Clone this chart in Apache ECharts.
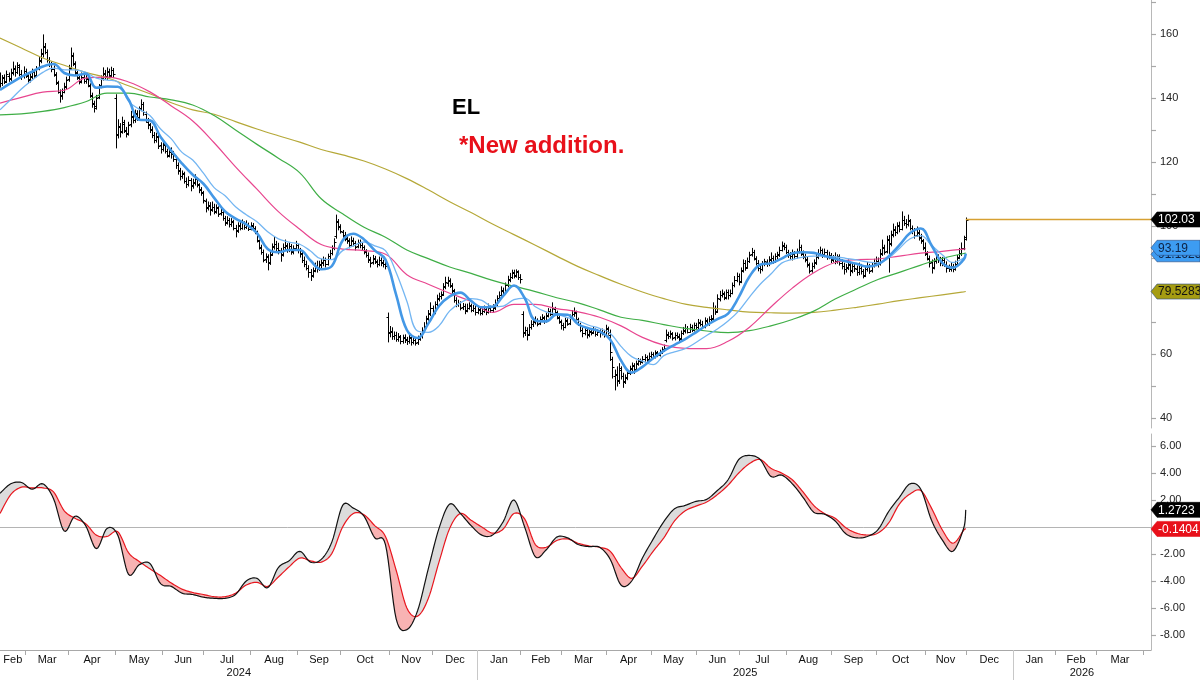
<!DOCTYPE html>
<html><head><meta charset="utf-8">
<script src="https://cdn.jsdelivr.net/npm/echarts@6/dist/echarts.min.js"></script>
<style>html,body{margin:0;padding:0;background:#fff}#c{width:1200px;height:696px}</style>
</head><body><div id="c"></div><script>
// ---- axis categories / tick labels ----
const monthLabels = ['Feb','Mar','Apr','May','Jun','Jul','Aug','Sep','Oct','Nov','Dec','Jan','Feb','Mar','Apr','May','Jun','Jul','Aug','Sep','Oct','Nov','Dec','Jan','Feb','Mar'];
const monthTradingDays = [12,20,22,22,19,22,22,20,23,20,21,20,19,21,21,21,20,22,21,21,23,19,22,20,19,22];
const yearLabels = ['2024','2025','2026'];
const priceTicks = [40,60,80,100,120,140,160];
const priceMinorTicks = [50,70,90,110,130,150,170];
const oscTicks = [-8,-6,-4,-2,0,2,4,6];
const priceTagLabels = ['91.1625','93.19','79.5283','102.03'];
const oscTagLabels = ['-0.1404','1.2723'];
const titleText = 'EL';
const noteText = '*New addition.';

// ---- daily OHLC (trading days from 13 Feb 2024) ----
const opens = [
145.5,144.6,146.4,145.2,147.0,146.3,148.0,149.2,148.2,149.8, 147.4,146.9,148.3,147.0,145.8,146.7,148.0,147.2,149.3,151.8,
154.0,156.2,154.2,151.8,150.6,149.2,147.2,144.6,141.8,140.8, 142.0,143.8,145.8,149.5,153.2,150.6,147.8,146.2,145.2,146.4,
145.4,146.2,143.8,140.6,138.2,137.4,140.4,143.9,146.2,147.8, 146.6,148.4,147.2,148.6,140.0,128.8,131.2,129.6,132.0,129.8,
129.0,131.8,134.2,133.2,135.2,134.0,136.8,138.0,135.0,132.6, 131.5,130.2,128.3,127.0,127.8,125.2,124.1,125.2,123.3,122.3,
123.2,122.4,121.0,119.2,117.2,115.7,116.3,114.2,113.2,114.3, 112.7,113.6,114.6,112.8,111.3,110.2,107.8,105.8,106.4,105.2,
105.8,104.7,105.6,104.0,104.3,102.4,101.2,101.8,100.6,101.3, 99.3,98.7,100.2,99.4,100.8,99.8,100.4,99.2,100.1,99.3,
98.0,95.2,93.2,91.8,89.6,90.4,88.8,91.2,93.6,94.3, 93.2,92.3,91.2,93.3,93.8,92.6,93.6,92.2,93.2,94.0,
92.6,91.2,89.3,88.2,86.8,85.6,84.8,86.2,87.3,86.7, 87.8,88.6,89.4,88.2,90.6,91.7,93.2,96.8,101.2,99.6,
98.2,97.2,96.2,95.3,94.2,95.2,94.6,93.7,94.8,94.2, 93.3,92.2,90.9,89.6,88.7,89.8,88.8,88.2,89.3,88.6,
88.1,71.5,66.8,67.2,65.6,66.0,64.6,65.4,64.2,65.2, 64.6,64.1,65.0,63.9,64.4,63.7,64.9,65.6,67.6,68.7,
71.2,72.8,74.3,73.2,75.6,77.3,78.2,78.7,81.2,82.3, 82.8,81.4,79.6,76.8,75.6,75.8,74.6,75.0,73.7,74.4,
75.0,73.9,74.3,73.2,73.8,72.9,73.6,74.0,73.2,74.3, 73.9,74.6,75.7,77.4,78.6,79.8,79.2,81.6,83.2,84.2,
85.4,84.6,85.6,84.1,72.5,66.8,67.4,66.2,68.4,69.4, 70.2,70.4,69.7,70.6,71.4,70.4,72.2,73.3,72.6,74.2,
72.8,71.3,70.2,69.2,68.6,70.4,69.7,71.4,72.4,72.8, 70.8,69.2,67.6,66.7,67.4,66.2,67.1,66.7,67.4,66.4,
66.8,66.6,66.9,66.2,67.8,66.0,58.5,53.0,53.8,51.5, 55.0,53.2,51.2,52.8,54.2,55.4,56.3,55.2,57.1,57.8,
57.7,58.4,59.0,58.3,59.4,60.1,59.3,60.4,59.8,60.4, 61.6,64.5,66.2,65.6,66.4,65.2,66.0,65.4,64.9,66.6,
67.3,68.2,67.0,68.3,67.6,69.1,68.4,69.8,69.4,68.6, 70.3,69.6,70.8,71.2,74.3,73.4,77.2,78.6,78.8,77.8,
79.3,78.6,79.2,81.6,83.2,84.4,82.7,86.2,88.4,87.2, 89.2,91.2,91.8,89.8,88.4,86.9,86.7,88.1,88.8,88.2,
89.6,90.1,89.1,90.6,91.2,92.6,93.9,93.4,91.8,91.1, 90.6,91.4,90.6,92.2,93.4,91.4,90.4,89.6,87.8,86.2,
87.6,88.6,90.4,91.6,92.4,91.2,91.8,90.6,90.8,89.6, 90.1,89.2,90.4,88.4,87.6,86.7,87.2,87.8,86.2,87.4,
86.6,85.7,86.8,85.8,84.8,86.6,87.3,86.2,87.9,88.4, 89.1,88.2,91.4,93.2,92.2,95.5,94.8,97.3,98.8,98.2,
100.2,99.2,101.8,100.8,100.6,101.6,99.4,98.4,97.2,97.8, 96.4,95.2,93.2,91.3,89.8,88.6,87.2,89.2,90.3,89.4,
88.4,89.4,88.2,86.8,86.6,87.3,86.6,88.2,90.2,91.6, 93.2,96.5];
const highs = [
147.8,147.0,147.2,148.4,147.8,149.0,151.2,150.0,151.0,150.4, 148.6,149.7,149.0,147.6,147.8,149.0,148.9,149.8,152.6,155.2,
159.7,157.0,155.0,152.6,151.2,150.0,147.9,145.2,142.5,142.8, 144.6,146.5,150.2,155.6,154.0,151.3,148.4,147.0,147.8,147.2,
147.2,146.8,144.4,141.5,139.0,140.8,144.2,146.9,149.4,148.6, 149.4,149.0,149.6,149.2,141.0,133.2,132.0,134.0,133.0,130.8,
132.4,135.8,135.0,136.2,136.0,137.2,139.4,138.6,135.6,133.6, 132.0,131.0,129.2,129.0,128.4,126.0,126.4,126.0,124.0,124.4,
124.4,123.3,121.8,119.7,118.0,117.2,116.8,115.0,115.4,114.8, 114.6,116.0,115.0,113.2,112.0,110.8,108.4,107.5,107.3,107.5,
106.8,106.6,106.0,105.3,104.8,103.0,102.9,102.4,102.3,101.8, 100.2,101.0,101.2,101.9,101.3,101.6,100.9,101.0,100.8,99.8,
98.4,95.6,94.0,92.5,91.3,91.0,91.8,94.4,96.6,95.2, 94.6,93.0,94.4,95.6,94.5,94.7,94.2,93.8,95.2,94.3,
93.0,91.8,90.3,89.0,87.6,86.4,86.9,88.4,89.0,89.0, 89.6,90.3,90.0,91.2,92.4,93.8,96.0,103.4,102.0,100.4,
98.6,98.0,96.6,96.0,96.6,96.2,95.2,95.6,95.6,94.6, 93.8,92.6,91.6,90.2,90.8,90.5,89.4,90.3,90.0,89.3,
89.0,72.8,68.6,68.2,66.9,66.8,66.4,65.8,65.9,66.0, 65.2,66.0,65.6,65.3,65.0,65.6,66.4,68.2,69.8,71.8,
73.6,76.0,75.0,76.3,78.4,79.0,79.4,82.0,84.0,84.0, 83.5,82.0,80.2,77.6,76.8,76.3,75.8,75.6,75.6,76.0,
75.6,75.2,75.0,74.8,74.4,74.2,75.0,74.6,75.6,75.0, 75.4,76.9,78.2,79.4,81.0,80.6,82.2,84.3,85.2,86.2,
86.2,86.3,86.0,84.8,73.2,68.4,68.2,69.2,70.4,71.2, 71.6,71.0,71.6,72.3,71.8,72.8,74.2,74.0,76.0,74.6,
73.4,72.0,70.6,69.6,71.2,71.0,72.2,73.6,74.4,73.4, 71.2,69.6,68.2,68.0,68.2,67.6,67.8,68.3,67.8,67.6,
67.6,67.8,67.4,69.0,68.4,67.5,59.0,55.0,56.0,57.0, 56.0,54.0,53.5,55.0,56.2,57.2,57.0,57.8,58.6,58.4,
59.2,59.8,59.4,60.3,60.6,60.4,61.0,60.8,61.2,62.0, 62.8,67.5,66.8,67.2,66.7,66.6,66.6,66.2,67.2,68.3,
69.2,68.6,69.3,69.0,69.7,69.6,70.8,70.6,70.2,71.3, 71.0,71.6,72.0,76.0,75.0,78.5,79.6,80.0,79.4,80.0,
80.0,80.0,82.2,84.2,85.3,85.0,86.9,89.4,89.2,90.0, 91.8,93.0,92.4,90.4,89.2,87.8,88.9,89.6,89.4,90.4,
91.6,90.6,91.3,91.8,93.4,95.0,94.6,94.0,92.4,91.7, 92.5,92.0,92.8,95.6,94.0,92.2,91.2,90.2,88.4,88.4,
89.4,91.2,92.6,93.4,92.8,92.8,92.4,91.8,91.4,90.8, 91.6,91.0,91.0,89.4,88.4,88.0,89.4,88.4,88.6,88.0,
87.5,88.4,88.0,86.4,87.4,88.6,88.0,88.6,89.6,90.3, 90.0,92.6,95.6,94.0,96.8,97.0,98.4,100.6,99.8,101.0,
101.2,104.4,103.0,102.0,103.4,102.0,100.0,99.2,99.7,98.6, 97.4,95.8,94.7,92.0,90.6,89.4,89.8,91.6,91.0,90.2,
90.2,90.0,88.8,87.8,88.6,88.0,89.0,90.8,93.0,94.7, 96.8,102.5];
const lows = [
143.4,143.9,144.5,144.8,145.2,145.5,147.2,146.8,147.6,146.9, 145.8,146.2,146.4,144.7,145.0,146.1,146.3,146.6,148.8,151.0,
152.8,153.8,151.2,149.8,148.2,146.8,144.2,141.5,138.7,139.6, 141.6,142.9,145.2,149.0,150.1,147.2,145.8,144.4,144.7,144.6,
144.6,143.5,140.2,137.1,135.6,136.5,139.8,143.2,145.6,145.9, 145.8,146.2,146.6,146.4,124.4,127.5,127.8,129.0,129.2,127.8,
128.4,131.0,132.2,132.4,133.0,133.4,136.0,134.6,132.4,130.4, 129.2,127.6,126.0,126.2,124.2,122.8,123.4,122.8,121.5,121.6,
121.2,120.2,118.0,116.2,114.4,114.9,113.4,112.0,112.5,111.0, 111.8,112.8,112.2,110.4,109.6,107.2,104.4,105.0,103.4,104.6,
103.8,104.0,103.0,103.4,101.8,100.2,100.6,99.7,99.9,98.8, 96.6,98.0,98.8,99.0,99.0,99.2,98.6,98.8,98.9,97.6,
95.0,92.8,91.2,88.8,88.6,86.3,88.0,90.8,92.8,92.0, 91.3,89.0,90.6,92.7,91.8,92.0,91.2,91.3,92.6,91.6,
90.3,88.6,87.3,86.3,84.0,83.0,84.0,85.7,85.6,86.1, 86.8,87.6,87.2,87.8,89.8,91.0,92.6,96.2,98.8,97.8,
96.2,95.4,94.6,93.2,93.6,93.8,92.5,93.2,93.2,92.6, 91.3,90.3,88.6,87.2,88.1,88.3,87.2,87.6,87.6,87.2,
86.6,63.8,65.4,64.6,64.6,64.0,64.0,63.2,63.4,63.6, 63.0,63.4,62.8,63.2,62.8,63.0,64.3,65.0,66.8,68.2,
70.6,72.0,72.4,72.6,75.0,76.6,77.2,78.3,80.4,81.2, 80.8,79.0,76.2,74.8,74.9,73.8,73.9,72.6,73.2,74.0,
73.2,73.3,72.2,72.6,72.2,72.3,73.0,72.3,72.8,73.0, 73.1,73.9,75.2,76.8,78.0,78.4,78.8,81.0,82.6,83.6,
83.8,84.0,83.3,82.2,65.3,65.8,64.4,65.8,67.8,68.6, 69.4,68.8,69.2,70.2,69.6,70.0,71.6,72.0,72.2,72.4,
71.0,69.6,67.8,67.5,68.2,69.0,69.2,71.0,71.8,70.6, 69.0,67.0,65.4,66.0,65.0,65.4,66.0,66.4,65.6,65.8,
65.3,66.0,65.3,65.8,66.2,58.0,52.5,48.8,50.0,50.8, 52.2,49.6,50.8,52.0,53.6,54.8,54.0,54.6,56.5,56.8,
57.2,57.8,57.6,58.0,58.9,58.6,58.8,59.2,59.4,60.2, 60.8,63.8,64.8,65.0,64.4,64.4,64.9,64.2,64.4,66.1,
66.6,66.6,66.8,67.0,67.2,67.9,68.0,68.8,68.0,68.2, 68.9,69.0,70.0,70.8,72.4,73.0,76.6,77.8,77.0,77.2,
77.2,77.9,78.8,81.0,82.6,81.6,82.3,85.6,86.2,86.8, 88.6,90.6,89.4,87.8,86.0,85.3,86.0,87.6,87.4,87.6,
88.4,88.4,88.6,89.8,90.5,92.2,92.6,91.4,90.2,89.5, 89.4,89.8,90.0,91.6,90.8,89.8,88.8,87.2,85.3,85.6,
86.8,88.0,89.8,90.8,90.2,90.4,89.6,89.8,88.6,88.8, 88.2,88.4,87.8,86.6,85.0,85.6,86.4,84.5,85.4,85.8,
84.6,84.8,85.0,83.8,84.2,85.9,85.2,85.6,87.2,87.6, 87.2,87.8,90.8,91.2,91.6,85.6,93.8,96.6,97.0,97.6,
98.2,98.8,100.2,99.4,100.0,98.8,97.6,96.2,96.8,95.6, 94.6,92.6,90.8,89.4,87.2,85.3,86.6,88.4,88.6,87.6,
87.6,87.4,85.6,85.8,85.9,85.7,86.2,87.6,89.8,90.8, 92.6,95.6];
const closes = [
144.8,146.2,145.0,147.4,146.0,147.8,149.5,148.0,150.2,147.6, 146.8,148.5,147.2,145.5,146.9,148.2,147.0,149.0,151.5,153.8,
156.0,154.5,152.0,150.5,149.0,147.5,145.0,142.0,140.5,141.8, 143.5,145.5,149.0,153.5,151.0,148.0,146.5,145.0,146.5,145.2,
146.0,144.2,141.0,138.5,137.0,140.0,143.5,146.0,147.5,146.8, 148.2,147.0,148.8,147.5,128.5,131.0,129.5,132.5,130.0,128.8,
131.5,134.5,133.0,135.0,133.8,136.5,138.2,135.5,133.0,131.8, 130.0,128.5,127.0,128.0,125.0,124.0,125.5,123.5,122.0,123.0,
122.5,121.0,119.0,117.5,115.5,116.5,114.0,113.0,114.5,112.5, 113.5,114.8,113.0,111.5,110.5,108.0,105.5,106.5,105.0,106.0,
104.5,105.8,103.8,104.5,102.5,101.0,102.0,100.5,101.5,99.5, 98.5,100.0,99.5,100.8,99.8,100.5,99.0,100.2,99.5,98.5,
95.5,93.5,92.0,89.5,90.5,88.5,91.0,93.5,94.5,93.0, 92.5,91.0,93.5,94.0,92.5,93.8,92.0,93.0,94.2,92.8,
91.5,89.5,88.0,87.0,85.5,84.5,86.0,87.5,86.5,88.0, 88.5,89.5,88.0,90.5,91.5,93.0,95.0,101.5,100.0,98.5,
97.0,96.0,95.5,94.0,95.5,94.8,93.5,95.0,94.0,93.5, 92.0,91.0,89.5,88.5,90.0,89.0,88.0,89.5,88.5,88.0,
87.5,66.5,67.0,65.5,66.0,64.8,65.5,64.0,65.0,64.5, 64.0,65.2,63.8,64.5,63.5,64.8,65.5,67.5,68.5,71.0,
72.5,74.5,73.0,75.5,77.5,78.0,78.5,81.0,82.5,83.0, 81.5,80.0,77.0,75.5,76.0,74.5,75.0,73.5,74.5,75.2,
73.8,74.5,73.0,74.0,72.8,73.5,74.2,73.0,74.5,73.8, 74.5,75.5,77.5,78.5,80.0,79.0,81.5,83.5,84.0,85.5,
84.5,85.8,84.0,83.5,66.5,67.5,66.0,68.5,69.5,70.0, 70.5,69.5,70.8,71.5,70.2,72.0,73.5,72.5,74.5,73.0,
71.5,70.0,69.0,68.5,70.5,69.5,71.5,72.5,73.0,71.0, 69.5,67.5,66.5,67.5,66.0,67.0,66.8,67.5,66.2,67.0,
66.5,67.0,66.0,68.0,67.0,60.5,56.0,53.5,52.0,55.5, 53.0,51.5,52.5,54.0,55.5,56.5,55.0,57.0,58.0,57.5,
58.5,59.0,58.2,59.5,60.0,59.2,60.5,59.8,60.5,61.5, 62.0,66.0,65.5,66.5,65.0,66.0,65.5,64.8,66.5,67.5,
68.0,67.0,68.5,67.5,69.0,68.5,70.0,69.5,68.5,70.5, 69.5,70.8,71.0,74.5,73.0,77.5,78.5,79.0,77.5,79.5,
78.5,79.0,81.5,83.0,84.5,82.5,86.0,88.5,87.0,89.0, 91.0,92.0,90.0,88.5,87.0,86.5,88.0,89.0,88.0,89.5,
90.0,89.0,90.5,91.0,92.5,94.0,93.5,92.0,91.0,90.5, 91.5,90.5,92.0,93.5,91.5,90.5,89.5,88.0,86.0,87.5,
88.5,90.5,91.5,92.5,91.0,92.0,90.5,91.0,89.5,90.0, 89.0,90.5,88.5,87.5,86.5,87.0,88.0,86.0,87.5,86.8,
85.5,87.0,86.0,84.5,86.5,87.5,86.0,87.8,88.5,89.0, 88.0,91.5,93.5,92.0,96.0,94.5,97.5,99.0,98.0,100.0,
99.0,102.0,101.0,100.5,102.0,99.5,98.5,97.0,98.0,96.5, 95.5,93.5,91.5,90.0,88.5,87.0,89.0,90.5,89.5,88.5,
89.5,88.0,87.0,86.5,87.5,86.5,88.0,90.0,91.5,93.0, 96.0,102.03];

// ---- moving averages (read every 5 / 10 trading days; last value = last day) ----
const fastStep = 5, slowStep = 10;
const maThick = [142.5,144.6,146.6,148.2,149.8,150.6,147.8,147.0,147.6,143.2, 143.6,143.5,139.5,133.2,133.0,127.8,123.5,119.5,116.0,113.2,
108.8,104.6,102.3,100.5,97.8,92.8,91.8,92.5,92.5,89.2, 86.5,87.5,95.5,97.6,95.8,92.4,89.5,78.5,67.5,65.0,
69.5,75.0,78.0,79.2,76.6,74.6,74.8,78.2,81.4,77.5, 70.5,70.2,72.4,72.3,69.3,68.0,67.1,64.5,58.0,54.2,
56.0,58.7,61.0,62.9,64.7,66.8,69.0,70.9,72.6,77.8, 84.2,87.9,88.4,89.8,91.5,91.8,91.6,90.6,89.8,89.0,
88.2,87.3,88.0,90.5,94.0,97.8,99.2,94.0,88.5,87.0,89.5, 91.4];
const maThin = [136.3,139.5,142.8,145.5,148.0,149.3,148.8,148.75,148.0,146.2, 145.6,145.0,139.0,136.5,134.5,130.3,127.2,123.0,120.6,116.5,
112.0,109.5,106.0,103.5,101.3,98.2,96.0,95.0,94.3,92.2, 89.7,89.5,92.3,93.8,95.0,93.8,92.3,85.5,76.5,67.2,
66.8,68.8,73.5,76.0,77.3,76.8,74.8,75.0,77.0,77.5, 74.8,73.2,72.5,71.4,70.4,69.0,68.0,66.4,62.4,59.2,
57.8,56.7,59.5,60.7,61.7,63.6,65.8,67.8,70.3,73.5, 77.8,81.8,85.0,88.4,89.6,90.3,90.6,90.6,90.4,89.9,
89.4,88.8,88.5,90.0,93.0,96.0,97.0,94.0,91.0,88.6,90.0, 90.9];
const ma50 = [138.4,140.2,141.8,142.4,146.2,146.5,145.0,141.9,137.5,132.8,126.0,118.5,111.5,104.5,99.0,94.2,92.8,92.3,91.2,84.8,
81.8,79.0,76.4,73.0,75.5,75.5,74.2,73.2,71.5,68.8,65.2,62.8,61.8,61.7,64.0,68.4,74.7,80.6,85.4,88.6,
89.5,89.7,90.6,91.5,92.1,92.8, 92.9];
const ma100 = [134.7,135.0,135.8,137.0,138.8,141.5,141.5,140.3,139.4,137.8,134.5,130.0,125.5,121.2,116.6,108.5,103.8,99.6,96.5,92.5,
89.8,87.2,85.2,83.0,81.2,79.5,77.6,76.0,73.8,71.5,70.5,69.2,68.0,67.2,66.7,67.3,68.8,70.8,73.4,77.2,
80.3,83.3,85.5,87.8,89.9,91.4, 91.5];
const ma200 = [158.7,155.6,152.5,150.2,148.0,146.3,143.8,141.3,138.5,136.3,134.9,132.6,130.3,128.2,126.2,123.9,122.2,120.3,117.8,114.8,
111.3,107.6,104.2,100.6,97.3,94.0,90.6,87.3,84.5,81.8,79.4,77.3,75.6,74.6,73.8,73.1,72.9,72.8,73.0,73.7,
74.6,75.6,76.7,77.6,78.5,79.4, 79.53];

// ---- oscillator (every 5 trading days; last value = last day) ----
const oscStep = 5;
const macdLine = [2.5,3.2,3.3,2.8,3.2,2.1,-0.3,0.8,0.1,-1.6, -0.1,-0.6,-3.5,-2.8,-2.7,-4.2,-4.4,-4.9,-5.0,-5.2,
-5.28,-5.28,-5.0,-4.0,-3.8,-4.5,-3.0,-2.5,-1.8,-2.6, -2.4,-1.1,1.6,1.4,0.8,-0.8,-1.3,-6.8,-7.6,-6.2,
-3.1,-0.1,1.7,1.0,0.1,-0.6,-0.6,0.4,2.0,0.0, -2.2,-1.7,-0.75,-0.8,-1.3,-1.45,-1.5,-2.4,-4.3,-4.0,
-2.3,-0.9,0.4,1.35,1.6,1.9,2.05,2.7,3.5,5.0, 5.3,5.0,3.75,3.85,3.2,2.2,1.1,0.95,0.45,-0.5,
-0.8,-0.7,-0.2,1.15,2.2,3.2,2.8,0.5,-0.95,-1.8,-0.1, 1.2723];
const signalLine = [1.0,2.4,2.95,2.9,2.9,2.6,1.2,0.65,0.25,-0.6, -0.7,-0.35,-1.9,-2.55,-3.1,-3.6,-4.15,-4.6,-4.85,-5.0,
-5.16,-5.16,-4.9,-4.3,-4.1,-4.4,-3.7,-2.95,-2.3,-2.5, -2.6,-1.95,0.0,1.0,0.9,0.1,-0.7,-3.2,-6.0,-6.6,
-5.3,-2.6,-0.1,1.0,0.5,0.0,-0.45,-0.15,1.0,0.6, -1.3,-1.5,-1.0,-0.88,-1.2,-1.4,-1.5,-1.8,-3.0,-3.8,
-2.9,-1.8,-0.8,0.45,1.2,1.55,1.85,2.4,3.1,4.0, 4.7,5.0,4.35,4.0,3.5,2.6,1.6,1.0,0.65,-0.05,
-0.45,-0.59,-0.45,0.3,1.7,2.45,2.7,1.4,-0.2,-1.2,-0.25, -0.1404];

// ---- build ----
const X_MAX = 537.5;
const lastIndex = closes.length - 1;
const monthStarts = [], monthMids = [];
let acc = 0;
monthTradingDays.forEach((d, k) => { if (k > 0) monthStarts.push(acc); monthMids.push(acc + d / 2); acc += d; });
monthStarts.push(acc);
const yearStarts = [monthStarts[10], monthStarts[22]];
const yearMids = [yearStarts[0] / 2, (yearStarts[0] + yearStarts[1]) / 2, (yearStarts[1] + X_MAX) / 2];
const priceAllTicks = priceTicks.concat(priceMinorTicks);

const ohlc = closes.map((c, i) => [i, opens[i], highs[i], lows[i], c]);
const toPairs = (arr, step) => arr.map((v, k) => [k === arr.length - 1 ? lastIndex : k * step, v]);
const macdPts = toPairs(macdLine, oscStep);
const sigPts = toPairs(signalLine, oscStep);

// Catmull-Rom path (rendering smoothing only), in data space
function spline(pts, sub) {
  const out = [];
  for (let k = 0; k < pts.length - 1; k++) {
    const p0 = pts[Math.max(k - 1, 0)], p1 = pts[k], p2 = pts[k + 1], p3 = pts[Math.min(k + 2, pts.length - 1)];
    for (let s = 0; s < sub; s++) {
      const t = s / sub, t2 = t * t, t3 = t2 * t;
      const f = d => 0.5 * (2 * p1[d] + (-p0[d] + p2[d]) * t + (2 * p0[d] - 5 * p1[d] + 4 * p2[d] - p3[d]) * t2 + (-p0[d] + 3 * p1[d] - 3 * p2[d] + p3[d]) * t3);
      out.push([f(0), f(1)]);
    }
  }
  out.push(pts[pts.length - 1].slice());
  return out;
}

const FONT = 'Liberation Sans';
const chart = echarts.init(document.getElementById('c'), null, { renderer: 'canvas' });

function maSeries(name, arr, step, color, width, z) {
  return { name, type: 'line', xAxisIndex: 0, yAxisIndex: 0, data: toPairs(arr, step), showSymbol: false, symbol: 'none',
    smooth: 0.4, lineStyle: { color, width }, z, silent: true };
}

const option = {
  animation: false,
  backgroundColor: '#fff',
  grid: [
    { left: 0, right: 49, top: 0, height: 428 },
    { left: 0, right: 49, top: 434, height: 216 }
  ],
  xAxis: [
    { gridIndex: 0, type: 'value', min: 0, max: X_MAX, show: false, axisLine: { onZero: false } },
    { gridIndex: 1, type: 'value', min: 0, max: X_MAX, position: 'bottom',
      axisLine: { show: true, onZero: false, lineStyle: { color: '#a8a8a8', width: 1 } },
      axisTick: { show: true, customValues: monthStarts, length: 5, lineStyle: { color: '#a8a8a8' } },
      axisLabel: { customValues: monthMids, margin: 4, color: '#111', fontFamily: FONT, fontSize: 11,
        formatter: v => monthLabels[monthMids.indexOf(v)] || '' },
      splitLine: { show: false } },
    { gridIndex: 1, type: 'value', min: 0, max: X_MAX, position: 'bottom',
      axisLine: { show: false, onZero: false },
      axisTick: { show: true, customValues: yearStarts, length: 30, lineStyle: { color: '#c8c8c8' } },
      axisLabel: { customValues: yearMids, margin: 17, color: '#111', fontFamily: FONT, fontSize: 11,
        formatter: v => yearLabels[yearMids.indexOf(v)] || '' },
      splitLine: { show: false } }
  ],
  yAxis: [
    { gridIndex: 0, type: 'value', position: 'right', min: 36.9, max: 170.6,
      axisLine: { show: true, onZero: false, lineStyle: { color: '#b8b8b8' } },
      axisTick: { show: true, customValues: priceAllTicks, length: 5, lineStyle: { color: '#a8a8a8', width: 1.2 } },
      axisLabel: { customValues: priceTicks, margin: 9, color: '#222', fontFamily: FONT, fontSize: 11 },
      splitLine: { show: false } },
    { gridIndex: 1, type: 'value', position: 'right', min: -9.11, max: 6.89,
      axisLine: { show: true, onZero: false, lineStyle: { color: '#b8b8b8' } },
      axisTick: { show: true, customValues: oscTicks, length: 5, lineStyle: { color: '#a8a8a8', width: 1.2 } },
      axisLabel: { customValues: oscTicks, margin: 9, color: '#222', fontFamily: FONT, fontSize: 11, formatter: v => v.toFixed(2) },
      splitLine: { show: false } }
  ],
  series: [
    { name: 'EL', type: 'custom', xAxisIndex: 0, yAxisIndex: 0, data: ohlc, clip: true, z: 2, silent: true,
      encode: { x: 0, y: [1, 2, 3, 4] },
      renderItem: (params, api) => {
        const i = api.value(0);
        const pO = api.coord([i, api.value(1)]);
        const pH = api.coord([i, api.value(2)]);
        const pL = api.coord([i, api.value(3)]);
        const pC = api.coord([i, api.value(4)]);
        const xx = Math.round(pO[0]) + 0.5;
        const st = { stroke: '#000', lineWidth: 1 };
        return { type: 'group', children: [
          { type: 'line', shape: { x1: xx, y1: pH[1] - 0.5, x2: xx, y2: pL[1] + 0.5 }, style: st },
          { type: 'line', shape: { x1: xx - 2, y1: Math.round(pO[1]) + 0.5, x2: xx, y2: Math.round(pO[1]) + 0.5 }, style: st },
          { type: 'line', shape: { x1: xx, y1: Math.round(pC[1]) + 0.5, x2: xx + 2, y2: Math.round(pC[1]) + 0.5 }, style: st }
        ] };
      } },
    { name: 'last', type: 'line', xAxisIndex: 0, yAxisIndex: 0, symbol: 'none', silent: true, z: 2,
      data: [[lastIndex, closes[lastIndex]], [X_MAX, closes[lastIndex]]],
      lineStyle: { color: '#d6a032', width: 1.3 } },
    maSeries('200', ma200, slowStep, '#b5a838', 1.2, 3),
    maSeries('100', ma100, slowStep, '#3fae46', 1.2, 3),
    maSeries('50', ma50, slowStep, '#e8468f', 1.2, 4),
    maSeries('thin', maThin, fastStep, '#74b6f2', 1.3, 5),
    maSeries('thick', maThick, fastStep, '#4498e6', 2.6, 6),
    { name: 'osc', type: 'custom', xAxisIndex: 1, yAxisIndex: 1, data: [[0, 0]], silent: true, clip: true, z: 3,
      encode: { x: 0, y: 1 },
      renderItem: (params, api) => {
        const m = spline(macdPts, 8), s = spline(sigPts, 8);
        const M = m.map(p => api.coord(p)), S = s.map(p => api.coord(p));
        const children = [];
        const z0a = api.coord([0, 0]), z0b = api.coord([X_MAX, 0]);
        let poly = null;
        const flush = () => { if (poly && poly.top.length > 1) {
          children.push({ type: 'polygon', shape: { points: poly.top.concat(poly.bot.slice().reverse()) },
            style: { fill: poly.sign > 0 ? '#dcdcdc' : '#f8b3b3', stroke: null } }); } };
        for (let k = 0; k < M.length; k++) {
          const d = m[k][1] - s[k][1];
          const sg = d >= 0 ? 1 : -1;
          if (poly === null) { poly = { sign: sg, top: [M[k]], bot: [S[k]] }; continue; }
          if (sg !== poly.sign) {
            const dPrev = m[k - 1][1] - s[k - 1][1];
            const t = dPrev / (dPrev - d);
            const cx = M[k - 1][0] + (M[k][0] - M[k - 1][0]) * t;
            const cy = M[k - 1][1] + (M[k][1] - M[k - 1][1]) * t;
            poly.top.push([cx, cy]); poly.bot.push([cx, cy]);
            flush();
            poly = { sign: sg, top: [[cx, cy], M[k]], bot: [[cx, cy], S[k]] };
          } else { poly.top.push(M[k]); poly.bot.push(S[k]); }
        }
        flush();
        children.push({ type: 'line', shape: { x1: z0a[0], y1: Math.round(z0a[1]) + 0.5, x2: z0b[0], y2: Math.round(z0b[1]) + 0.5 },
          style: { stroke: '#b4b4b4', lineWidth: 1 } });
        children.push({ type: 'polyline', shape: { points: S }, style: { stroke: '#e8161e', lineWidth: 1.2, fill: null } });
        children.push({ type: 'polyline', shape: { points: M }, style: { stroke: '#111', lineWidth: 1.2, fill: null } });
        return { type: 'group', children };
      } }
  ]
};
chart.setOption(option);

// ---- value tags on the right axes + titles ----
const tagStyles = {
  '91.1625': { bg: '#3d9cf2', fg: '#0d2244', axis: 0 },
  '93.19': { bg: '#3d9cf2', fg: '#0d2244', axis: 0 },
  '79.5283': { bg: '#a59c12', fg: '#111', axis: 0 },
  '102.03': { bg: '#000', fg: '#fff', axis: 0 },
  '-0.1404': { bg: '#e8101a', fg: '#fff', axis: 1 },
  '1.2723': { bg: '#000', fg: '#fff', axis: 1 }
};
const axX = chart.convertToPixel({ xAxisIndex: 0 }, X_MAX);
const W = chart.getWidth();
const graphics = [];
priceTagLabels.concat(oscTagLabels).forEach((lab, k) => {
  const s = tagStyles[lab];
  const y = chart.convertToPixel({ yAxisIndex: s.axis }, parseFloat(lab));
  const h = 7.5;
  graphics.push({ type: 'polygon', z: 100 + k, silent: true,
    shape: { points: [[axX, y], [axX + 6, y - h], [W, y - h], [W, y + h], [axX + 6, y + h]] },
    style: { fill: s.bg, stroke: s.fg === '#fff' ? s.bg : '#2a4a80', lineWidth: 0.6 } });
  graphics.push({ type: 'text', z: 100 + k, silent: true,
    style: { text: lab, x: axX + 7, y: y + 0.5, fill: s.fg, font: '12px "' + FONT + '"', verticalAlign: 'middle', align: 'left' } });
});
graphics.push({ type: 'text', z: 50, silent: true, left: 452, top: 97,
  style: { text: titleText, fill: '#000', font: 'bold 22px "' + FONT + '"' } });
graphics.push({ type: 'text', z: 50, silent: true, left: 459, top: 134,
  style: { text: noteText, fill: '#e8101a', font: 'bold 24px "' + FONT + '"' } });
chart.setOption({ graphic: graphics });
</script></body></html>
